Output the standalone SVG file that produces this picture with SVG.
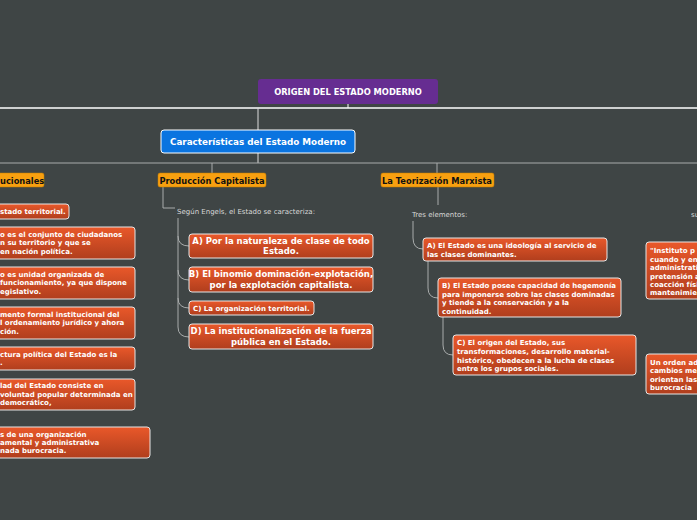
<svg xmlns="http://www.w3.org/2000/svg" width="697" height="520" viewBox="0 0 697 520">
<defs>
<linearGradient id="og" x1="0" y1="0" x2="0" y2="1"><stop offset="0" stop-color="#e9582a"/><stop offset="1" stop-color="#b03e1d"/></linearGradient>
<style>
.n{fill:url(#og);stroke:#e6e6e6;stroke-width:1}
.t{font-family:"DejaVu Sans",sans-serif;font-weight:bold;font-size:7px;fill:#fff}
.b{font-family:"DejaVu Sans",sans-serif;font-weight:bold;font-size:8.5px;fill:#fff}
.h{fill:#f8a010;stroke:#c77c00;stroke-width:0.5}
.ht{font-family:"DejaVu Sans",sans-serif;font-weight:bold;font-size:8.3px;fill:#111}
.s{font-family:"DejaVu Sans",sans-serif;font-size:7px;fill:#d8d8d8}
.c{fill:none;stroke:#a9acac;stroke-width:1}
</style>
</defs>
<rect width="697" height="520" fill="#3f4545"/>
<g id="connectors">
<line x1="0" y1="108" x2="697" y2="108" stroke="#fff" stroke-width="1.5"/>
<line x1="348" y1="104" x2="348" y2="108" stroke="#fff"/>
<line x1="258" y1="108" x2="258" y2="130" stroke="#ddd"/>
<line x1="258" y1="153" x2="258" y2="163" stroke="#ddd"/>
<line x1="0" y1="163" x2="697" y2="163" class="c" stroke-width="1.5"/>
<line x1="212" y1="163" x2="212" y2="173" class="c"/>
<line x1="437" y1="163" x2="437" y2="173" class="c"/>
<path class="c" d="M163 187 V208 H175"/>
<path class="c" d="M178 218 V236 Q178 246 189 246"/>
<path class="c" d="M178 236 V270 Q178 280 189 280"/>
<path class="c" d="M178 270 V298 Q178 308 189 308"/>
<path class="c" d="M178 298 V327 Q178 337 189 337"/>
<line x1="438" y1="187" x2="438" y2="205" class="c" stroke-width="1.5"/>
<path class="c" d="M413 221 V238 Q413 249 423 249"/>
<path class="c" d="M428 260 V288 Q428 298 438 298"/>
<path class="c" d="M443 317 V345 Q443 355 453 355"/>
</g>
<g id="root"><rect x="258" y="79" width="180" height="25" rx="3" fill="#662d91"/><text x="348" y="95" text-anchor="middle" class="t" style="font-size:8.3px">ORIGEN DEL ESTADO MODERNO</text></g>
<g id="caract"><rect x="161" y="130" width="194" height="23" rx="3" fill="#0a74e0" stroke="#fff"/><text x="258" y="145" text-anchor="middle" class="b" style="font-size:8.8px">Características del Estado Moderno</text></g>
<g id="inst"><rect x="-10" y="173" width="54" height="14" rx="2" class="h"/><text x="0" y="183.5" class="ht">ucionales</text></g>
<g id="prod"><rect x="158" y="173" width="108" height="14" rx="2" class="h"/><text x="212" y="183.5" text-anchor="middle" class="ht">Producción Capitalista</text></g>
<g id="marx"><rect x="381" y="173" width="113" height="14" rx="2" class="h"/><text x="437" y="183.5" text-anchor="middle" class="ht">La Teorización Marxista</text></g>
<g id="l1"><rect x="-20" y="204" width="89" height="15" rx="3" class="n"/><text x="0" y="214" class="t">stado territorial.</text></g>
<g id="l2"><rect x="-20" y="227" width="155" height="32" rx="3" class="n"/><text class="t"><tspan x="0" y="237">o es el conjunto de ciudadanos</tspan><tspan x="0" y="245">n su territorio y que se</tspan><tspan x="0" y="254">en nación política.</tspan></text></g>
<g id="l3"><rect x="-20" y="267" width="155" height="32" rx="3" class="n"/><text class="t"><tspan x="0" y="277">o es unidad organizada de</tspan><tspan x="0" y="285">funcionamiento, ya que dispone</tspan><tspan x="0" y="294">egislativo.</tspan></text></g>
<g id="l4"><rect x="-20" y="307" width="155" height="32" rx="3" class="n"/><text class="t"><tspan x="0" y="317">mento formal institucional del</tspan><tspan x="0" y="325">l ordenamiento jurídico y ahora</tspan><tspan x="0" y="334">ción.</tspan></text></g>
<g id="l5"><rect x="-20" y="347" width="155" height="23" rx="3" class="n"/><text class="t"><tspan x="0" y="357">ctura política del Estado es la</tspan><tspan x="0" y="365">.</tspan></text></g>
<g id="l6"><rect x="-20" y="379" width="155" height="31" rx="3" class="n"/><text class="t"><tspan x="0" y="388">lad del Estado consiste en</tspan><tspan x="0" y="397">voluntad popular determinada en</tspan><tspan x="0" y="405">democrático,</tspan></text></g>
<g id="l7"><rect x="-20" y="427" width="170" height="31" rx="3" class="n"/><text class="t"><tspan x="0" y="437">s de una organización</tspan><tspan x="0" y="445">amental y administrativa</tspan><tspan x="0" y="453">nada burocracia.</tspan></text></g>
<text x="177" y="214" class="s">Según Engels, el Estado se caracteriza:</text>
<g id="pa"><rect x="189" y="234" width="184" height="24" rx="3" class="n"/><text text-anchor="middle" class="b"><tspan x="281" y="244">A) Por la naturaleza de clase de todo</tspan><tspan x="281" y="254">Estado.</tspan></text></g>
<g id="pb"><rect x="189" y="267" width="184" height="25" rx="3" class="n"/><text text-anchor="middle" class="b"><tspan x="281" y="277">B) El binomio dominación-explotación,</tspan><tspan x="281" y="288">por la explotación capitalista.</tspan></text></g>
<g id="pc"><rect x="189" y="301" width="125" height="14" rx="3" class="n"/><text x="193" y="311" class="t">C) La organización territorial.</text></g>
<g id="pd"><rect x="189" y="324" width="184" height="25" rx="3" class="n"/><text text-anchor="middle" class="b"><tspan x="281" y="334">D) La institucionalización de la fuerza</tspan><tspan x="281" y="345">pública en el Estado.</tspan></text></g>
<text x="412" y="217" class="s">Tres elementos:</text>
<g id="ma"><rect x="423" y="238" width="184" height="23" rx="3" class="n"/><text class="t"><tspan x="427" y="248">A) El Estado es una ideología al servicio de</tspan><tspan x="427" y="257">las clases dominantes.</tspan></text></g>
<g id="mb"><rect x="438" y="278" width="183" height="39" rx="3" class="n"/><text class="t"><tspan x="442" y="288">B) El Estado posee capacidad de hegemonía</tspan><tspan x="442" y="297">para imponerse sobre las clases dominadas</tspan><tspan x="442" y="305">y tiende a la conservación y a la</tspan><tspan x="442" y="314">continuidad.</tspan></text></g>
<g id="mc"><rect x="453" y="335" width="183" height="40" rx="3" class="n"/><text class="t"><tspan x="457" y="345">C) El origen del Estado, sus</tspan><tspan x="457" y="354">transformaciones, desarrollo material-</tspan><tspan x="457" y="363">histórico, obedecen a la lucha de clases</tspan><tspan x="457" y="371">entre los grupos sociales.</tspan></text></g>
<text x="691" y="217" class="s">su</text>
<g id="r1"><rect x="646" y="242" width="70" height="57" rx="3" class="n"/><text class="t"><tspan x="650" y="253">"Instituto p</tspan><tspan x="650" y="262">cuando y en</tspan><tspan x="650" y="270">administrati</tspan><tspan x="650" y="279">pretensión a</tspan><tspan x="650" y="287">coacción físi</tspan><tspan x="650" y="295">mantenimie</tspan></text></g>
<g id="r2"><rect x="646" y="354" width="70" height="40" rx="3" class="n"/><text class="t"><tspan x="650" y="365">Un orden ad</tspan><tspan x="650" y="373">cambios me</tspan><tspan x="650" y="382">orientan las</tspan><tspan x="650" y="390">burocracia</tspan></text></g>
</svg>
